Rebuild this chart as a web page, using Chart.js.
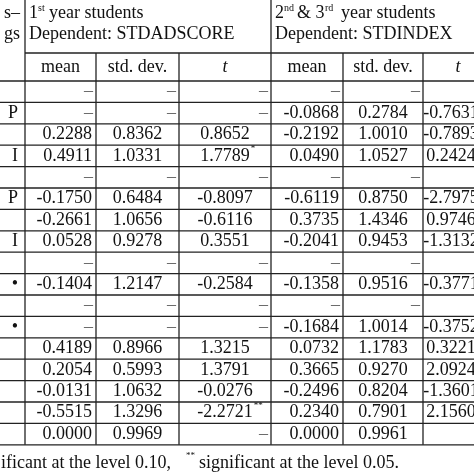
<!DOCTYPE html>
<html><head><meta charset="utf-8">
<script src="https://cdn.jsdelivr.net/npm/chart.js@4"></script>
<style>html,body{margin:0;padding:0;background:#fff;}canvas{display:block;}</style>
</head><body>
<canvas id="c" width="474" height="474"></canvas>
<script>
const rowLabels = ["", "P", "", "I", "", "P", "", "I", "", "•", "", "•", "", "", "", "", ""];
const mean1 = ["–", "–", "0.2288", "0.4911", "–", "-0.1750", "-0.2661", "0.0528", "–", "-0.1404", "–", "–", "0.4189", "0.2054", "-0.0131", "-0.5515", "0.0000"];
const sd1 = ["–", "–", "0.8362", "1.0331", "–", "0.6484", "1.0656", "0.9278", "–", "1.2147", "–", "–", "0.8966", "0.5993", "1.0632", "1.3296", "0.9969"];
const t1 = ["–", "–", "0.8652", "1.7789*", "–", "-0.8097", "-0.6116", "0.3551", "–", "-0.2584", "–", "–", "1.3215", "1.3791", "-0.0276", "-2.2721**", "–"];
const mean2 = ["–", "-0.0868", "-0.2192", "0.0490", "–", "-0.6119", "0.3735", "-0.2041", "–", "-0.1358", "–", "-0.1684", "0.0732", "0.3665", "-0.2496", "0.2340", "0.0000"];
const sd2 = ["–", "0.2784", "1.0010", "1.0527", "–", "0.8750", "1.4346", "0.9453", "–", "0.9516", "–", "1.0014", "1.1783", "0.9270", "0.8204", "0.7901", "0.9961"];
const t2 = ["", "-0.7631", "-0.7893", "0.2424", "", "-2.7975", "0.9746", "-1.3132", "", "-0.3771", "", "-0.3752", "0.3221", "2.0924", "-1.3601", "2.1560", ""];
const subHeaders = ["mean", "std. dev.", "t", "mean", "std. dev.", "t"];

// layout (pixel-space scale values)
const colEdges = [-40, 25, 96, 179, 271, 343, 423, 520];
const rowTop = 81, rowH = 21.4, headLine = 53;
const FS = 18;

const tablePlugin = {
  id: 'table',
  afterDraw(chart) {
    const ctx = chart.ctx, xs = chart.scales.x, ys = chart.scales.y;
    const X = v => xs.getPixelForValue(v), Y = v => ys.getPixelForValue(v);
    const nRows = mean1.length;
    const bottom = rowTop + nRows * rowH;
    ctx.save();
    ctx.strokeStyle = '#222'; ctx.lineWidth = 1.3;
    const hl = (y, x0, x1) => { ctx.beginPath(); ctx.moveTo(X(x0), Y(y)); ctx.lineTo(X(x1), Y(y)); ctx.stroke(); };
    const vl = (x, y0, y1) => { ctx.beginPath(); ctx.moveTo(X(x), Y(y0)); ctx.lineTo(X(x), Y(y1)); ctx.stroke(); };
    hl(headLine, colEdges[1], 474);
    for (let i = 0; i <= nRows; i++) hl(rowTop + i * rowH, -5, 474);
    vl(colEdges[1], 0, bottom); vl(colEdges[4], 0, bottom);
    [2,3,5,6].forEach(k => vl(colEdges[k], headLine, bottom));
    ctx.fillStyle = '#111';
    ctx.textBaseline = 'middle';
    const font = (s, it) => ctx.font = (it ? 'italic ' : '') + s + 'px "Liberation Serif", "DejaVu Serif", serif';
    // headers
    font(FS); ctx.textAlign = 'left';
    ctx.fillText('1', X(29), Y(13)); font(10); ctx.fillText('st', X(38), Y(8));
    font(FS); ctx.fillText('year students', X(49), Y(13));
    ctx.fillText('Dependent: STDADSCORE', X(29), Y(34));
    ctx.fillText('2', X(275), Y(13)); font(10); ctx.fillText('nd', X(284), Y(8));
    font(FS); ctx.fillText('& 3', X(297), Y(13)); font(10); ctx.fillText('rd', X(325), Y(8));
    font(FS); ctx.fillText('year students', X(341), Y(13));
    ctx.fillText('Dependent: STDINDEX', X(275), Y(34));
    ctx.textAlign = 'right'; ctx.fillText('s–', X(20), Y(13)); ctx.fillText('gs', X(20), Y(34));
    // sub headers
    ctx.textAlign = 'center';
    subHeaders.forEach((h, k) => {
      font(FS, h === 't');
      const cx = k === 5 ? 458 : (colEdges[k+1] + colEdges[k+2]) / 2;
      ctx.fillText(h, X(cx), Y(67));
    });
    // data
    const cols = [mean1, sd1, t1, mean2, sd2, t2];
    for (let r = 0; r < nRows; r++) {
      const yc = Y(rowTop + (r + 0.5) * rowH);
      ctx.textAlign = 'right'; font(FS);
      if (rowLabels[r]) ctx.fillText(rowLabels[r], X(18), yc);
      cols.forEach((arr, k) => {
        let v = arr[r]; if (!v) return;
        const l = colEdges[k+1], rr = colEdges[k+2];
        if (v === '–') { ctx.textAlign = 'right'; ctx.fillStyle = '#666'; ctx.fillText('–', X(rr - 3), yc); ctx.fillStyle = '#111'; return; }
        const stars = (v.match(/\*+$/) || [''])[0]; v = v.replace(/\*+$/, '');
        const cx = k === 5 ? 451 : (l + rr) / 2;
        if (k === 0 || k === 3) { ctx.textAlign = 'right'; ctx.fillText(v, X(rr - 4), yc); }
        else { ctx.textAlign = 'center'; ctx.fillText(v, X(cx), yc); }
        if (stars) {
          const w = ctx.measureText(v).width;
          font(9); ctx.textAlign = 'left';
          ctx.fillText(stars, X(cx) + w / 2 + 1, yc - 7); font(FS);
        }
      });
    }
    // footnote
    ctx.textAlign = 'left'; font(FS);
    ctx.fillText('ificant at the level 0.10,', X(1), Y(463));
    font(9); ctx.fillText('**', X(186), Y(456));
    font(FS); ctx.fillText('significant at the level 0.05.', X(199), Y(463));
    ctx.restore();
  }
};

new Chart(document.getElementById('c'), {
  type: 'scatter',
  data: { datasets: [{ data: [] }] },
  options: {
    responsive: false, animation: false, devicePixelRatio: 1,
    layout: { padding: 0 },
    plugins: { legend: { display: false }, tooltip: { enabled: false } },
    scales: {
      x: { type: 'linear', min: 0, max: 474, display: false },
      y: { type: 'linear', min: 0, max: 474, reverse: true, display: false }
    }
  },
  plugins: [tablePlugin]
});
</script>
</body></html>
